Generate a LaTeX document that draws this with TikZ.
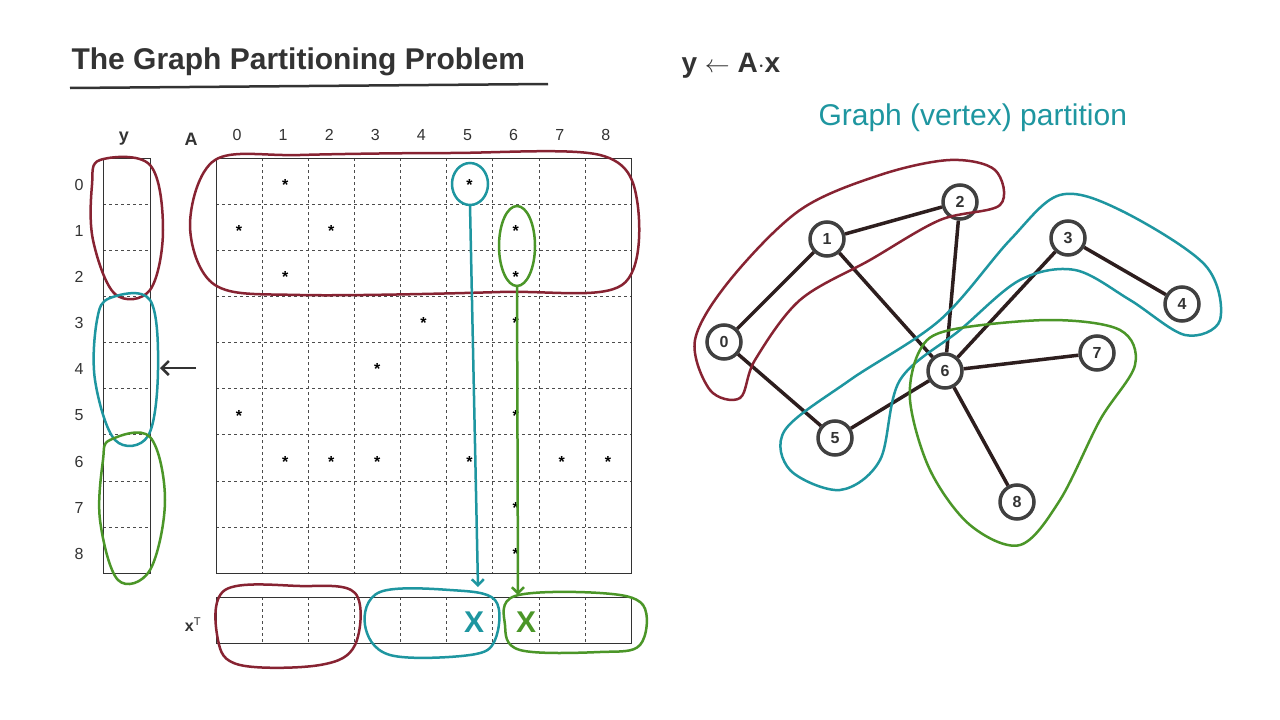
\documentclass[tikz,border=0pt]{standalone}
\usepackage{fontspec}
\setmainfont{Liberation Sans}
\usetikzlibrary{arrows.meta}
\begin{document}
\begin{tikzpicture}[x=1pt,y=-1pt,
  grid/.style={black!80,thin},
  dgrid/.style={black!70,dashed,thin},
  lbl/.style={font=\fontsize{16}{16}\selectfont,text=black!80},
  st/.style={font=\fontsize{16}{16}\selectfont\bfseries},
  vtx/.style={circle,draw=black!75,line width=3.5pt,fill=white,minimum size=34pt,inner sep=0pt,font=\fontsize{16}{16}\selectfont\bfseries,text=black!80},
  edge/.style={line width=3.5pt,draw={rgb,255:red,45;green,30;blue,30}},
  red loop/.style={draw={rgb,255:red,135;green,35;blue,50},line width=2.5pt},
  teal loop/.style={draw={rgb,255:red,30;green,150;blue,160},line width=2.5pt},
  green loop/.style={draw={rgb,255:red,75;green,150;blue,40},line width=2.5pt}]
\useasboundingbox (0,0) rectangle (1280,720);
\fill[white] (0,0) rectangle (1280,720);
% title
\node[anchor=west,font=\fontsize{30}{30}\selectfont\bfseries,text=black!80] (title) at (68,62) {The Graph Partitioning Problem};
\draw[black!80,line width=2.5pt] (70,88) -- (548,84);
\node[anchor=west,font=\fontsize{28}{28}\selectfont\bfseries,text=black!80] (eq) at (678,66) {y $\leftarrow$ A$\cdot$x};
\node[anchor=west,font=\fontsize{30}{30}\selectfont,text={rgb,255:red,30;green,150;blue,160}] (gp) at (815,118) {Graph (vertex) partition};
% matrix
\draw[dgrid] \foreach \i in {1,...,8} {(216+46.11*\i,158) -- (216+46.11*\i,573) (216,158+46.11*\i) -- (631,158+46.11*\i)};
\draw[grid] (216,158) rectangle (631,573);
\foreach \i in {0,...,8} {
  \node[lbl] (c\i) at (237+46.11*\i,135) {\i};
  \node[lbl] (r\i) at (79,185+46.11*\i) {\i};
}
\node[lbl,font=\fontsize{18}{18}\selectfont\bfseries] (Alab) at (191,139) {A};
\node[lbl,font=\fontsize{18}{18}\selectfont\bfseries] (ylab) at (124,139) {y};
\foreach \r/\c in {0/1,0/5,1/0,1/2,1/6,2/1,2/6,3/4,3/6,4/3,5/0,5/6,6/1,6/2,6/3,6/5,6/7,6/8,7/6,8/6}
  \node[st] at (239+46.11*\c,185+46.11*\r) {*};
% y vector
\draw[dgrid] \foreach \i in {1,...,8} {(103,158+46.11*\i) -- (150,158+46.11*\i)};
\draw[grid] (103,158) rectangle (150,573);
\coordinate (ya) at (196,368);
\coordinate (yb) at (160,368);
\draw[black!80,line width=2.5pt,-{Straight Barb[length=7pt,width=14pt]}] (ya) -- (yb);
% x^T
\draw[dgrid] \foreach \i in {1,...,8} {(216+46.11*\i,597) -- (216+46.11*\i,643)};
\draw[grid] (216,597) rectangle (631,643);
\node[lbl,font=\fontsize{16}{16}\selectfont\bfseries] (xt) at (193,625) {x$^{\mathrm{T}}$};
\node[font=\fontsize{30}{30}\selectfont\bfseries,text={rgb,255:red,30;green,150;blue,160}] (x1) at (474,622) {X};
\node[font=\fontsize{30}{30}\selectfont\bfseries,text={rgb,255:red,75;green,150;blue,40}] (x2) at (526,622) {X};
% loops on matrix
\draw[red loop] plot[smooth cycle,tension=0.6] coordinates {(100,160)(150,165)(163,230)(150,290)(115,294)(93,240)(92,185)};
\draw[teal loop] plot[smooth cycle,tension=0.6] coordinates {(110,298)(150,300)(158,370)(148,436)(115,440)(95,380)(97,320)};
\draw[green loop] plot[smooth cycle,tension=0.6] coordinates {(110,440)(150,437)(165,500)(150,570)(118,580)(100,520)(103,460)};
\draw[red loop] plot[smooth cycle,tension=0.55] coordinates {(215,160)(300,155)(450,153)(600,155)(637,200)(622,285)(500,292)(300,295)(215,285)(190,225)};
\draw[teal loop] (470,184) ellipse (18 and 21);
\draw[green loop] (517,246) ellipse (18 and 40);
\draw[red loop] plot[smooth cycle,tension=0.6] coordinates {(225,590)(300,586)(355,593)(355,645)(320,665)(240,665)(218,640)};
\draw[teal loop] plot[smooth cycle,tension=0.6] coordinates {(380,592)(450,590)(495,600)(495,640)(470,655)(390,655)(365,625)};
\draw[green loop] plot[smooth cycle,tension=0.6] coordinates {(515,596)(600,593)(643,605)(640,645)(600,652)(520,650)(505,625)};
\coordinate (ta) at (470,205);
\coordinate (tb) at (478,587);
\coordinate (ga) at (517,286);
\coordinate (gb) at (518,595);
\draw[teal loop,-{Straight Barb[length=6pt,width=12pt]}] (ta) -- (tb);
\draw[green loop,-{Straight Barb[length=6pt,width=12pt]}] (ga) -- (gb);
% graph
\node[vtx] (n0) at (724,342) {0};
\node[vtx] (n1) at (827,239) {1};
\node[vtx] (n2) at (960,202) {2};
\node[vtx] (n3) at (1068,238) {3};
\node[vtx] (n4) at (1182,304) {4};
\node[vtx] (n5) at (835,438) {5};
\node[vtx] (n6) at (945,371) {6};
\node[vtx] (n7) at (1097,353) {7};
\node[vtx] (n8) at (1017,502) {8};
\draw[edge] (n0)--(n1) (n0)--(n5) (n1)--(n2) (n1)--(n6) (n2)--(n6) (n3)--(n6) (n3)--(n4) (n5)--(n6) (n6)--(n7) (n6)--(n8);
\draw[red loop] plot[smooth cycle,tension=0.55] coordinates {(950,160)(995,170)(1000,205)(940,220)(870,260)(800,300)(755,360)(740,398)(710,390)(695,340)(730,280)(800,210)(880,175)};
\draw[teal loop] plot[smooth cycle,tension=0.55] coordinates {(1060,195)(1120,210)(1205,265)(1220,320)(1185,335)(1130,300)(1075,270)(1020,280)(960,330)(900,380)(880,460)(840,490)(790,470)(785,430)(850,380)(940,320)(1010,240)};
\draw[green loop] plot[smooth cycle,tension=0.55] coordinates {(950,330)(1050,320)(1120,330)(1135,365)(1100,420)(1060,500)(1020,545)(970,525)(930,470)(910,400)(920,350)};
\end{tikzpicture}
\end{document}
